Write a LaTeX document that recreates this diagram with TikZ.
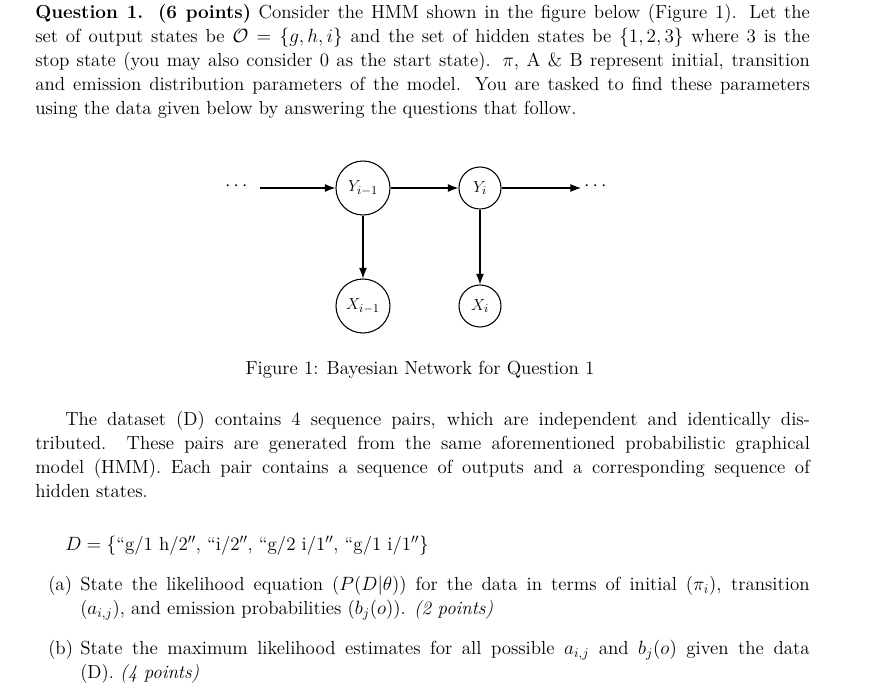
\documentclass[tikz,border=0pt]{standalone}
\usepackage{amsmath}
\usetikzlibrary{arrows.meta}
\begin{document}
\begin{tikzpicture}[x=0.75pt,y=-0.75pt,
  txt/.style={inner sep=0pt,anchor=north west,align=justify,font=\fontsize{14.2}{18}\selectfont},
  rv/.style={draw,circle,line width=0.8pt,minimum size=#1,inner sep=0pt,font=\fontsize{13}{15}\selectfont},
  arr/.style={line width=0.8pt,-{Latex[length=8pt,width=6pt]}}]
\useasboundingbox (0,0) rectangle (876,697);
\node[txt,text width=581pt] (p1) at (35,4) {\textbf{Question 1. (6 points)} Consider the HMM shown in the figure below (Figure 1). Let the\linebreak
set of output states be $\mathcal{O}=\{g,h,i\}$ and the set of hidden states be $\{1,2,3\}$ where 3 is the\linebreak
stop state (you may also consider 0 as the start state). $\pi$, A \& B represent initial, transition\linebreak
and emission distribution parameters of the model. You are tasked to find these parameters\linebreak
using the data given below by answering the questions that follow.};
\node[rv=40.5pt] (y1) at (363,188) {$Y_{i-1}$};
\node[rv=31.5pt] (y2) at (480,188) {$Y_{i}$};
\node[rv=40.5pt] (x1) at (363,306) {$X_{i-1}$};
\node[rv=31.5pt] (x2) at (480,306) {$X_{i}$};
\node[font=\fontsize{14}{16}\selectfont] (dl) at (238,186) {$\cdots$};
\node[font=\fontsize{14}{16}\selectfont] (dr) at (597,186) {$\cdots$};
\coordinate (s) at (260,188);
\coordinate (e) at (581,188);
\draw[arr] (s) -- (y1);
\draw[arr] (y1) -- (y2);
\draw[arr] (y2) -- (e);
\draw[arr] (y1) -- (x1);
\draw[arr] (y2) -- (x2);
\node[txt,anchor=center] (cap) at (420,370) {Figure 1: Bayesian Network for Question 1};
\node[txt,text width=581pt] (p2) at (35,411) {\hspace*{22.5pt}The dataset (D) contains 4 sequence pairs, which are independent and identically dis-\linebreak
tributed. These pairs are generated from the same aforementioned probabilistic graphical\linebreak
model (HMM). Each pair contains a sequence of outputs and a corresponding sequence of\linebreak
hidden states.};
\node[txt] (d) at (65,536) {$D=\{$``g/1 h/2$''$, ``i/2$''$, ``g/2 i/1$''$, ``g/1 i/1$''\}$};
\node[txt] (la) at (48,576) {(a)};
\node[txt,text width=547pt] (ta) at (80,576) {State the likelihood equation ($P(D|\theta)$) for the data in terms of initial ($\pi_i$), transition\linebreak
($a_{i,j}$), and emission probabilities ($b_j(o)$). \textit{(2 points)}};
\node[txt] (lb) at (48,640) {(b)};
\node[txt,text width=547pt] (tb) at (80,640) {State the maximum likelihood estimates for all possible $a_{i,j}$ and $b_j(o)$ given the data\linebreak
(D). \textit{(4 points)}};
\end{tikzpicture}
\end{document}
